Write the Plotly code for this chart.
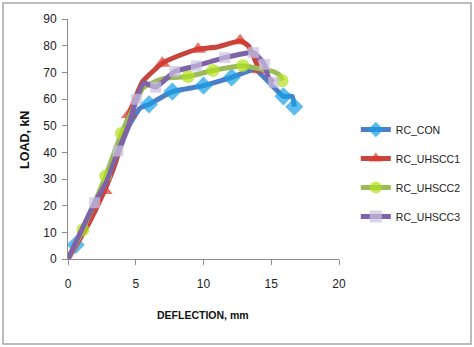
import plotly.graph_objects as go

# ---- data (deflection mm, load kN); marker flag = 1 where a marker is drawn
con_x = [0, 0.57, 2.0, 3.2, 4.5, 5.3, 5.98, 7.7, 10.0, 12.08, 13.8, 15.9, 16.55, 16.7]
con_y = [0, 5.3, 19, 33, 50, 56.5, 58.0, 62.8, 65.0, 68.1, 71.0, 61.0, 61.0, 57.1]
con_m = [0, 1, 0, 0, 0, 0, 1, 1, 1, 1, 0, 1, 0, 1]

u1_x = [0, 1.5, 2.7, 3.5, 4.5, 5.5, 6.96, 8.3, 9.6, 11.0, 12.7, 13.3, 14.1]
u1_y = [0, 13, 25.7, 36, 54.2, 66.5, 73.4, 76.5, 78.7, 79.5, 81.8, 80.0, 71.0]
u1_m = [0, 0, 1, 0, 1, 0, 1, 0, 1, 0, 1, 0, 1]

u2_x = [0, 1.1, 2.78, 3.94, 5.0, 5.5, 6.2, 7.2, 8.86, 10.7, 12.9, 14.3, 15.15, 15.6, 15.8]
u2_y = [0, 11.0, 31.1, 47.1, 58.5, 64.0, 66.0, 67.8, 68.4, 70.7, 72.5, 71.2, 70.3, 69.0, 66.9]
u2_m = [0, 1, 1, 1, 0, 0, 0, 0, 1, 1, 1, 0, 0, 0, 1]

u3_x = [0, 1.97, 2.8, 3.69, 4.5, 5.04, 5.6, 6.47, 7.87, 9.47, 11.56, 13.7, 14.5, 14.8, 15.18]
u3_y = [0, 21.1, 28.5, 40.5, 50.5, 59.9, 66.0, 64.4, 70.3, 72.4, 75.5, 77.4, 73.0, 68.0, 66.3]
u3_m = [0, 1, 0, 1, 0, 1, 0, 1, 1, 1, 1, 1, 1, 0, 1]

names = ["RC_CON", "RC_UHSCC1", "RC_UHSCC2", "RC_UHSCC3"]
xs = [con_x, u1_x, u2_x, u3_x]
ys = [con_y, u1_y, u2_y, u3_y]
ms = [con_m, u1_m, u2_m, u3_m]
line_colors = ["#4A7EC6", "#C8453E", "#9BBB59", "#7F63A6"]
marker_colors = ["#17A0E6", "#DC3A2E", "#B2E01E", "#CBC2E2"]
symbols = ["diamond", "triangle-up", "circle", "square"]
sizes = [14, 14, 13, 11]

AX = "#8C8C8C"
FONT = "Liberation Sans"

fig = go.Figure()
for i in range(4):
    fig.add_trace(go.Scatter(
        x=xs[i], y=ys[i], name=names[i], mode="lines+markers",
        legendgroup=names[i],
        line=dict(color=line_colors[i], width=5, shape="spline", smoothing=0.4),
        marker=dict(symbol=symbols[i], color=marker_colors[i],
                    size=[sizes[i] if f else 0 for f in ms[i]],
                    line=dict(width=0)),
        cliponaxis=False,
    ))

fig.update_layout(
    width=474, height=347,
    margin=dict(l=68, r=135, t=19, b=88, autoexpand=False),
    paper_bgcolor="white", plot_bgcolor="white",
    font=dict(family=FONT, size=12, color="#222222"),
    showlegend=True,
    legend=dict(x=1.062, y=0.6, xanchor="left", yanchor="top",
                tracegroupgap=10, itemsizing="constant",
                font=dict(family=FONT, size=10.5, color="#222222"),
                itemwidth=30, bgcolor="rgba(0,0,0,0)"),
    xaxis=dict(range=[0, 20], tickvals=[0, 5, 10, 15, 20], showgrid=False, zeroline=False,
               showline=True, linecolor=AX, linewidth=1, ticks="outside", ticklen=5,
               tickcolor=AX, ticklabelstandoff=9, tickfont=dict(size=12), automargin=False),
    yaxis=dict(range=[0, 90], tickvals=list(range(0, 91, 10)), showgrid=False, zeroline=False,
               showline=True, linecolor=AX, linewidth=1, ticks="outside", ticklen=5,
               tickcolor=AX, ticklabelstandoff=3, tickfont=dict(size=12), automargin=False),
    annotations=[
        dict(text="<b>DEFLECTION, mm</b>", xref="paper", yref="paper", x=0.498, y=-0.233,
             xanchor="center", yanchor="middle", showarrow=False,
             font=dict(family=FONT, size=10.5, color="#111111")),
        dict(text="<b>LOAD, kN</b>", xref="paper", yref="paper", x=-0.1587, y=0.496,
             xanchor="center", yanchor="middle", showarrow=False, textangle=-90,
             font=dict(family=FONT, size=12.5, color="#111111")),
    ],
    shapes=[dict(type="rect", xref="paper", yref="paper", x0=-0.2399, x1=1.487,
                 y0=-0.354, y1=1.0667, line=dict(color="#A6A6A6", width=1.5),
                 fillcolor="rgba(0,0,0,0)", layer="below")],
)

fig.write_html("out.html")
